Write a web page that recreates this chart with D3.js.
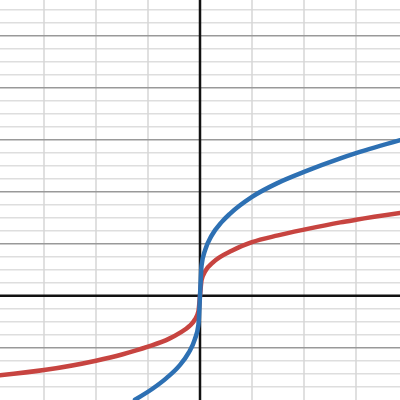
<!DOCTYPE html>
<html>
<head>
<meta charset="utf-8">
<script src="https://cdn.jsdelivr.net/npm/d3@7"></script>
<style>
  html, body { margin: 0; padding: 0; background: #fff; }
  svg { display: block; }
</style>
</head>
<body>
<div id="wrapper"></div>
<script>
// values (graph units)
const blueX = [-1.25, -0.9, -0.64, -0.4, -0.22, -0.1, -0.03, 0, 0.03, 0.1, 0.22, 0.42, 0.58, 1.0, 1.5, 2.0, 2.7, 3.0, 3.85]
const blueY = [-2.0, -1.78, -1.58, -1.35, -1.1, -0.84, -0.56, 0, 0.58, 0.88, 1.15, 1.42, 1.58, 1.9, 2.17, 2.38, 2.64, 2.74, 2.99]
const redX = [-3.85, -3.0, -2.0, -1.5, -1.0, -0.6, -0.38, -0.2, -0.1, -0.03, 0, 0.03, 0.1, 0.25, 0.62, 1.0, 1.5, 2.0, 2.7, 3.0, 3.85]
const redY = [-1.53, -1.43, -1.25, -1.13, -0.98, -0.83, -0.71, -0.58, -0.46, -0.3, 0, 0.3, 0.47, 0.64, 0.87, 1.03, 1.16, 1.27, 1.41, 1.46, 1.59]

// grid lines
const xGridLines = [-3, -2, -1, 1, 2, 3]
const yMajorLines = [-1, 1, 2, 3, 4, 5]
const yMinorLines = d3.range(-2, 5.75, 0.25).filter(v => !Number.isInteger(v))

function drawChart() {
    let dimensions = { width: 400, height: 400 }

    const wrapper = d3.select("#wrapper")
        .append("svg")
        .attr("width", dimensions.width)
        .attr("height", dimensions.height)

    const xScale = d3.scaleLinear()
        .domain([-200 / 52, 200 / 52])
        .range([0, dimensions.width])
    const yScale = d3.scaleLinear()
        .domain([(295.7 - 400) / 52, 295.7 / 52])
        .range([dimensions.height, 0])

    // minor horizontal grid
    wrapper.append("g")
        .selectAll("line")
        .data(yMinorLines)
        .join("line")
        .attr("x1", 0)
        .attr("x2", dimensions.width)
        .attr("y1", d => yScale(d))
        .attr("y2", d => yScale(d))
        .attr("stroke", "#dedede")
        .attr("stroke-width", 1.5)

    // vertical grid
    wrapper.append("g")
        .selectAll("line")
        .data(xGridLines)
        .join("line")
        .attr("x1", d => xScale(d))
        .attr("x2", d => xScale(d))
        .attr("y1", 0)
        .attr("y2", dimensions.height)
        .attr("stroke", "#d6d6d6")
        .attr("stroke-width", 1.5)

    // major horizontal grid
    wrapper.append("g")
        .selectAll("line")
        .data(yMajorLines)
        .join("line")
        .attr("x1", 0)
        .attr("x2", dimensions.width)
        .attr("y1", d => yScale(d))
        .attr("y2", d => yScale(d))
        .attr("stroke", "#999")
        .attr("stroke-width", 1.5)

    // axes
    wrapper.append("line")
        .attr("x1", 0).attr("x2", dimensions.width)
        .attr("y1", yScale(0)).attr("y2", yScale(0))
        .attr("stroke", "#111")
        .attr("stroke-width", 2.5)
    wrapper.append("line")
        .attr("x1", xScale(0)).attr("x2", xScale(0))
        .attr("y1", 0).attr("y2", dimensions.height)
        .attr("stroke", "#111")
        .attr("stroke-width", 2.5)

    const lineGenerator = d3.line()
        .x(d => xScale(d[0]))
        .y(d => yScale(d[1]))
        .curve(d3.curveMonotoneX)

    const redData = d3.zip(redX, redY)
    const blueData = d3.zip(blueX, blueY)

    wrapper.append("path")
        .attr("d", lineGenerator(redData))
        .attr("fill", "none")
        .attr("stroke", "#c74440")
        .attr("stroke-width", 4.5)
        .attr("stroke-linecap", "round")

    wrapper.append("path")
        .attr("d", lineGenerator(blueData))
        .attr("fill", "none")
        .attr("stroke", "#2d70b3")
        .attr("stroke-width", 4.5)
        .attr("stroke-linecap", "round")
}

drawChart()
</script>
</body>
</html>
